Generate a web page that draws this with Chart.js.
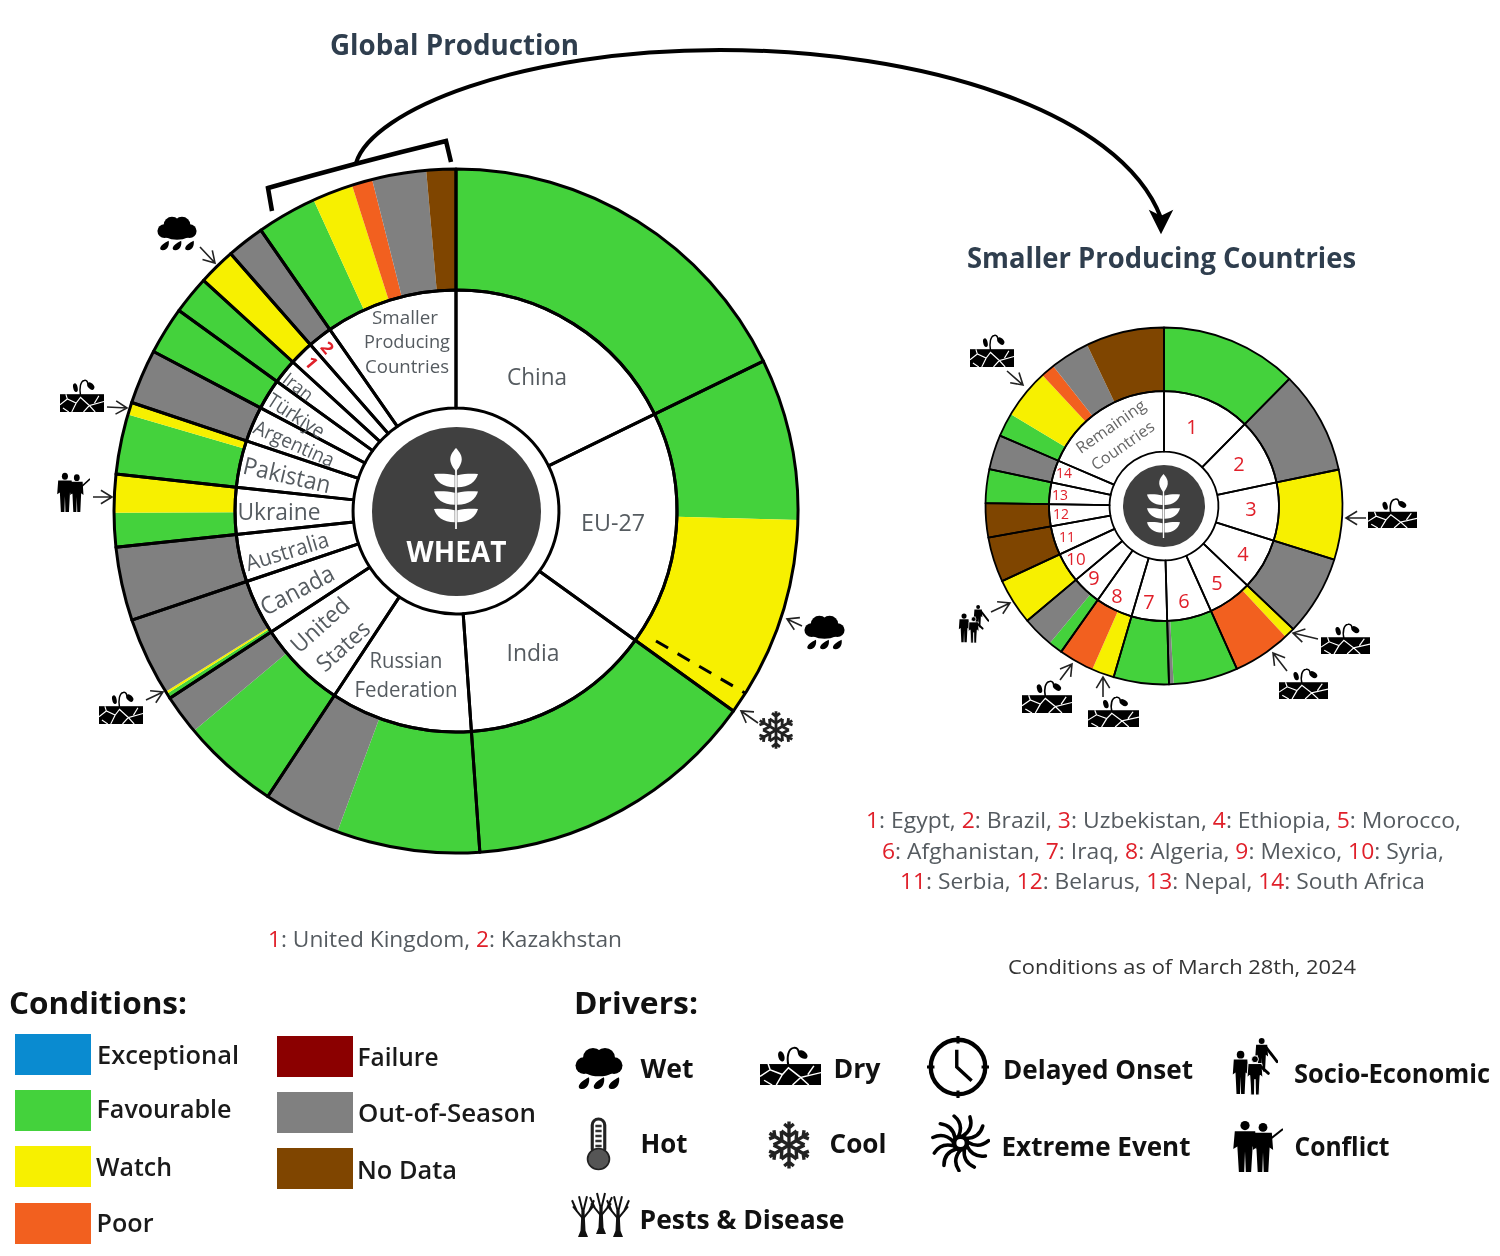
<!DOCTYPE html>
<html>
<head>
<meta charset="utf-8">
<title>Wheat conditions</title>
<script src="https://cdn.jsdelivr.net/npm/chart.js@4"></script>
<style>
  html, body { margin: 0; padding: 0; background: #fff; }
  #page { position: relative; width: 1500px; height: 1256px; overflow: hidden; font-family: "Open Sans", sans-serif; }
  canvas { position: absolute; }
  #overlay { position: absolute; left: 0; top: 0; }
  .hub { position: absolute; border-radius: 50%; background: #404040; }
</style>
</head>
<body>
<div id="page">
  <canvas id="majorBase" width="700" height="700" style="left:106px;top:161px;width:700px;height:700px"></canvas>
  <canvas id="majorFrame" width="700" height="700" style="left:106px;top:161px;width:700px;height:700px"></canvas>
  <canvas id="minorBase" width="380" height="380" style="left:974px;top:316px;width:380px;height:380px"></canvas>
  <canvas id="minorFrame" width="380" height="380" style="left:974px;top:316px;width:380px;height:380px"></canvas>
  <div class="hub" style="left:372px;top:427px;width:169px;height:169px"></div>
  <div class="hub" style="left:1123px;top:465px;width:82px;height:82px"></div>
  <svg id="overlay" width="1500" height="1256" viewBox="0 0 1500 1256" xmlns="http://www.w3.org/2000/svg"></svg>
</div>
<script>
'use strict';

// Global production: share of the wheel per country (degrees)
var majorCountries = ['China', 'EU-27', 'India', 'Russian Federation', 'United States', 'Canada', 'Australia',
    'Ukraine', 'Pakistan', 'Argentina', 'Türkiye', 'Iran', 'United Kingdom', 'Kazakhstan', 'Smaller Producing Countries'];
var majorShares = [64, 61.8, 50.2, 37.4, 23.4, 14.6, 12.5, 12.3, 12.3, 9.3, 8.1, 6.5, 6.4, 6.4, 34.8];

// Outer ring: same wheel, split by crop condition
var majorCondValues = [64, 27.5, 34.3, 50.2, 24.3, 13.1, 16.6, 6.8, 0.9, 0.4, 13.3, 12.5, 5.8, 6.5, 10.2, 2.1,
    9.3, 8.1, 6.5, 6.4, 6.4, 10.2, 6.9, 3.5, 9.2, 5];
var majorCondKinds = ['Favourable', 'Favourable', 'Watch', 'Favourable', 'Favourable', 'Out-of-Season', 'Favourable',
    'Out-of-Season', 'Favourable', 'Watch', 'Out-of-Season', 'Out-of-Season', 'Favourable', 'Watch', 'Favourable', 'Watch',
    'Out-of-Season', 'Favourable', 'Favourable', 'Watch', 'Out-of-Season', 'Favourable', 'Watch', 'Poor', 'Out-of-Season', 'No Data'];

// Smaller producing countries
var minorCountries = ['Egypt', 'Brazil', 'Uzbekistan', 'Ethiopia', 'Morocco', 'Afghanistan', 'Iraq', 'Algeria',
    'Mexico', 'Syria', 'Serbia', 'Belarus', 'Nepal', 'South Africa', 'Remaining Countries'];
var minorShares = [44.6, 33.6, 29.3, 26.1, 22.3, 22.5, 18, 18.8, 14.8, 15.1, 14.7, 11.1, 11, 11.3, 66.8];
var minorCondValues = [44.6, 33.6, 29.3, 26.1, 3.5, 18.8, 21, 1.5, 18, 7.3, 11.5, 4.6, 10.2, 15.1, 14.7, 11.1, 11, 11.3,
    7.7, 16.2, 4.5, 12.9, 25.5];
var minorCondKinds = ['Favourable', 'Out-of-Season', 'Watch', 'Out-of-Season', 'Watch', 'Poor', 'Favourable', 'Out-of-Season',
    'Favourable', 'Watch', 'Poor', 'Favourable', 'Out-of-Season', 'Watch', 'No Data', 'No Data', 'Favourable', 'Out-of-Season',
    'Favourable', 'Watch', 'Poor', 'Out-of-Season', 'No Data'];

// Legend
var conditionNames = ['Exceptional', 'Favourable', 'Watch', 'Poor', 'Failure', 'Out-of-Season', 'No Data'];
var conditionColors = ['#0A8BD0', '#44D23C', '#F7F000', '#F2601F', '#8B0000', '#808080', '#7F4500'];

var GREY_TEXT = '#555b60';
var RED_TEXT = '#E0202A';

function colorOf(kind) {
    return conditionColors[conditionNames.indexOf(kind)];
}

/**
 * Two stacked charts per wheel: coloured rings below, black frame per country on top
 */
function drawWheel(baseId, frameId, names, shares, condValues, condKinds, radius, cutout, weights, lineWidth) {
    var common = {
        responsive: false,
        animation: false,
        events: [],
        radius: radius,
        cutout: cutout,
        plugins: { legend: { display: false }, tooltip: { enabled: false } }
    };
    new Chart(document.getElementById(baseId), {
        type: 'doughnut',
        data: {
            labels: condKinds,
            datasets: [
                { data: condValues, backgroundColor: condKinds.map(colorOf), borderWidth: 0, weight: weights[0] },
                { data: shares, backgroundColor: '#ffffff', borderWidth: 0, weight: weights[1] }
            ]
        },
        options: common
    });
    new Chart(document.getElementById(frameId), {
        type: 'doughnut',
        data: {
            labels: names,
            datasets: [
                { data: shares, backgroundColor: 'rgba(0,0,0,0)', borderColor: '#000', borderWidth: lineWidth, borderJoinStyle: 'round', weight: weights[0] },
                { data: shares, backgroundColor: 'rgba(0,0,0,0)', borderColor: '#000', borderWidth: lineWidth, borderJoinStyle: 'round', weight: weights[1] }
            ]
        },
        options: common
    });
}

drawWheel('majorBase', 'majorFrame', majorCountries, majorShares, majorCondValues, majorCondKinds, 342, '30.1%', [121, 118], 3);
drawWheel('minorBase', 'minorFrame', minorCountries, minorShares, minorCondValues, minorCondKinds, 178.5, '30.5%', [63.5, 60.5], 1.8);

// ---- annotations: text and icons on top of the charts ----

function text(str, cx, cy, size, width, color, weight, rot) {
    var t = rot ? ' transform="rotate(' + rot + ' ' + cx + ' ' + cy + ')"' : '';
    return '<text x="' + cx + '" y="' + (cy - 1) + '" font-size="' + size + '" font-weight="' + (weight || 400) + '" fill="' + color +
        '" text-anchor="middle" dominant-baseline="central" textLength="' + width + '" lengthAdjust="spacingAndGlyphs"' + t + '>' + str + '</text>';
}

function icon(id, x0, y0, x1, y1) {
    return '<use href="#' + id + '" x="' + x0 + '" y="' + y0 + '" width="' + (x1 - x0) + '" height="' + (y1 - y0) + '"/>';
}

function arrow(x0, y0, x1, y1, width) {
    var a = Math.atan2(y1 - y0, x1 - x0), h = 13;
    var p = [a + 2.6, a - 2.6].map(function(b) {
        return (x1 + h * Math.cos(b)).toFixed(1) + ' ' + (y1 + h * Math.sin(b)).toFixed(1);
    });
    return '<path d="M' + x0 + ' ' + y0 + 'L' + x1 + ' ' + y1 + 'M' + p[0] + 'L' + x1 + ' ' + y1 + 'L' + p[1] +
        '" fill="none" stroke="#222" stroke-width="' + (width || 1.6) + '"/>';
}

function footnote(entries, cx, cy, size, width) {
    var parts = entries.map(function(e) {
        return '<tspan fill="' + RED_TEXT + '">' + e[0] + '</tspan>: ' + e[1] + e[2];
    }).join('');
    return '<text x="' + cx + '" y="' + (cy - 1) + '" font-size="' + size + '" fill="' + GREY_TEXT + '" text-anchor="middle" dominant-baseline="central" textLength="' +
        width + '" lengthAdjust="spacingAndGlyphs">' + parts + '</text>';
}

function rotated(count, body) {
    var out = '';
    for (var i = 0; i < count; i++) {
        out += '<g transform="rotate(' + (i * 360 / count).toFixed(1) + ' 50 50)">' + body + '</g>';
    }
    return out;
}

function person(cx, top, h, ratio) {
    var w = h * ratio;
    return '<circle cx="' + cx + '" cy="' + (top + h * 0.09) + '" r="' + (h * 0.09) + '"/>' +
        '<path d="M' + (cx - w) + ' ' + (top + h * 0.2) + 'H' + (cx + w) + 'L' + (cx + w * 1.15) + ' ' + (top + h * 0.55) + 'L' + (cx + w * 0.75) + ' ' + (top + h * 0.5) +
        'L' + (cx + w * 0.6) + ' ' + (top + h) + 'H' + (cx + w * 0.08) + 'L' + cx + ' ' + (top + h * 0.6) + 'L' + (cx - w * 0.08) + ' ' + (top + h) + 'H' + (cx - w * 0.6) +
        'L' + (cx - w * 0.75) + ' ' + (top + h * 0.5) + 'L' + (cx - w * 1.15) + ' ' + (top + h * 0.55) + 'Z"/>';
}

function tree(cx, base) {
    return '<path d="M' + cx + ' ' + (base - 18) + 'L' + (cx - 10) + ' ' + (base - 30) + 'M' + cx + ' ' + (base - 18) + 'L' + (cx + 10) + ' ' + (base - 30) +
        'M' + cx + ' ' + (base - 24) + 'L' + (cx - 4) + ' ' + (base - 40) + 'M' + cx + ' ' + (base - 24) + 'L' + (cx + 4) + ' ' + (base - 40) +
        'M' + (cx - 6) + ' ' + (base - 25) + 'L' + (cx - 11) + ' ' + (base - 36) + 'M' + (cx + 6) + ' ' + (base - 25) + 'L' + (cx + 11) + ' ' + (base - 36) + '" stroke="#111" fill="none" stroke-width="2"/>' +
        '<path d="M' + (cx - 1.5) + ' ' + (base - 26) + 'H' + (cx + 1.5) + 'L' + (cx + 2.5) + ' ' + (base - 6) + 'L' + (cx + 5) + ' ' + base + 'H' + (cx - 5) + 'L' + (cx - 2.5) + ' ' + (base - 6) + 'Z" fill="#111"/>';
}

function leafPair(y) {
    return '<path d="M47 ' + (y + 3) + 'C30 ' + (y - 1) + ' 15 ' + (y - 1) + ' 0 ' + y + 'C5 ' + (y + 18) + ' 20 ' + (y + 31) + ' 47 ' + (y + 31) + 'Z"/>' +
        '<path d="M53 ' + (y + 3) + 'C70 ' + (y - 1) + ' 85 ' + (y - 1) + ' 100 ' + y + 'C95 ' + (y + 18) + ' 80 ' + (y + 31) + ' 53 ' + (y + 31) + 'Z"/>';
}

var symbols =
    '<symbol id="wet" viewBox="0 0 48 44" preserveAspectRatio="none"><circle cx="9" cy="19" r="8.5"/><circle cx="18" cy="11" r="10"/><circle cx="30" cy="11" r="10"/><circle cx="39" cy="19" r="8.5"/><ellipse cx="24" cy="20" rx="18" ry="10"/>' +
    '<path d="M14 31C15 36 13 43 7 43C2 43 2 37 14 31ZM29 31C30 36 28 43 22 43C17 43 17 37 29 31ZM44 31C45 36 43 43 37 43C32 43 32 37 44 31Z"/></symbol>' +
    '<symbol id="dry" viewBox="0 0 60 42" preserveAspectRatio="none"><path d="M28 22C26 12 28 4 33 3C37 2 38 6 38 8" fill="none" stroke="#000" stroke-width="2"/><ellipse cx="42" cy="10" rx="5.5" ry="3.6" transform="rotate(40 42 10)"/><ellipse cx="21" cy="12" rx="3" ry="5.5" transform="rotate(-15 21 12)"/>' +
    '<rect x="0" y="20" width="60" height="22"/><path d="M0 33L10 26L22 31L28 24L40 34L60 29M10 26L8 20M22 31L16 42M40 34L32 42M40 34L48 42M47 31L53 22M4 37L12 42" fill="none" stroke="#fff" stroke-width="1.5"/></symbol>' +
    '<symbol id="snow" viewBox="0 0 100 100" preserveAspectRatio="none"><g stroke="#222" stroke-width="7" fill="none">' +
    rotated(6, '<path d="M50 50V3M50 33L34 22M50 33L66 22M50 16L40 8M50 16L60 8"/>') + '</g></symbol>' +
    '<symbol id="clock" viewBox="0 0 100 100" preserveAspectRatio="none"><circle cx="50" cy="50" r="44" fill="none" stroke="#000" stroke-width="7"/><path d="M48 22V50L72 72" fill="none" stroke="#000" stroke-width="5.5"/>' +
    '<path d="M50 0V12M50 88V100M0 50H12M88 50H100" stroke="#000" stroke-width="5"/></symbol>' +
    '<symbol id="hot" viewBox="0 0 24 54" preserveAspectRatio="none"><rect x="6" y="2" width="12" height="36" rx="6" fill="#fff" stroke="#222" stroke-width="3"/><path d="M9 9H15M9 14H15M9 19H15M9 24H15M9 29H15" stroke="#333" stroke-width="2.6"/><circle cx="12" cy="42" r="10.5" fill="#555" stroke="#222" stroke-width="1.6"/></symbol>' +
    '<symbol id="cyclone" viewBox="0 0 100 100" preserveAspectRatio="none"><circle cx="50" cy="50" r="15"/><circle cx="50" cy="50" r="7" fill="#fff"/><g fill="none" stroke="#000" stroke-width="6" stroke-linecap="round">' +
    rotated(11, '<path d="M54 38C66 30 70 18 66 5"/>') + '</g></symbol>' +
    '<symbol id="family" viewBox="0 0 50 58" preserveAspectRatio="none">' + person(11, 13, 44, 0.16) + person(33, 0, 34, 0.17) + '<path d="M38 10L49 24" stroke="#000" stroke-width="3" stroke-linecap="round"/><g stroke="#fff" stroke-width="1">' + person(26, 18, 40, 0.18) + '</g><path d="M31 28L40 36" stroke="#000" stroke-width="3" stroke-linecap="round"/></symbol>' +
    '<symbol id="conflict" viewBox="0 0 50 52" preserveAspectRatio="none">' + person(12, 1, 51, 0.2) + person(30, 3, 49, 0.18) + '<path d="M36 20L50 9" stroke="#000" stroke-width="2"/></symbol>' +
    '<symbol id="pests" viewBox="0 0 60 46" preserveAspectRatio="none">' + tree(12, 46) + tree(30, 43) + tree(47, 46) + '</symbol>' +
    '<symbol id="wheat" viewBox="0 0 100 190" preserveAspectRatio="none"><g fill="#fff"><path d="M50 0C62 14 72 28 50 55C28 28 38 14 50 0Z"/><rect x="48" y="50" width="4" height="140"/>' +
    leafPair(61) + leafPair(102) + leafPair(143) + '</g></symbol>';

// label, centre x, centre y, font size, text width, rotation
var majorLabels = [
    ['China', 537, 377, 23, 60, 0], ['EU-27', 613, 523, 23, 64, 0], ['India', 533, 653, 23, 53, 0],
    ['Russian', 406, 661, 21, 73, 0], ['Federation', 406, 690, 21, 103, 0],
    ['United', 320, 625, 23, 70, -42], ['States', 343, 646, 23, 63, -42], ['Canada', 297, 590, 24, 80, -28],
    ['Australia', 287, 551, 22, 86, -17], ['Ukraine', 279, 511, 24, 83, 0], ['Pakistan', 287, 475, 24, 89, 13],
    ['Argentina', 294, 444, 20, 86, 24], ['Türkiye', 296, 416, 20, 64, 33], ['Iran', 298, 387, 18, 33, 38],
    ['Smaller', 405, 318, 18, 66, 0], ['Producing', 407, 342, 18, 86, 0], ['Countries', 407, 367, 18, 84, 0]
];
var minorNumbers = [
    ['1', 1192, 427, 20], ['2', 1239, 464, 20], ['3', 1251, 509, 20], ['4', 1243, 554, 20], ['5', 1217, 583, 20],
    ['6', 1184, 601, 20], ['7', 1149, 602, 20], ['8', 1117, 596, 20], ['9', 1094, 578, 20], ['10', 1076, 559, 17],
    ['11', 1067, 537, 14], ['12', 1061, 514, 14], ['13', 1060, 495, 14], ['14', 1064, 473, 14]
];

var html = '<defs>' + symbols + '</defs>';

// headings and connector
html += text('Global Production', 454.5, 45, 28, 249, '#2F3E4E', 700);
html += text('Smaller Producing Countries', 1161.5, 258, 28, 389, '#2F3E4E', 700);
html += '<path d="M272 211L268 188Q355 163 446 141L451 162" fill="none" stroke="#000" stroke-width="4.5"/>';
html += '<path d="M356 163C372 110 520 50 720 50C920 50 1120 110 1161 218" fill="none" stroke="#000" stroke-width="4"/>';
html += '<path d="M1161 232L1151 212L1161 217L1171 212Z" stroke="#000" stroke-width="2"/>';

// dashed split inside the EU-27 watch slice
html += '<path d="M656 641L745 693" stroke="#000" stroke-width="3" stroke-dasharray="14 11"/>';

// centre of the wheels
html += icon('wheat', 434, 448, 478, 529) + text('WHEAT', 456.5, 552, 28, 100, '#fff', 700);
html += icon('wheat', 1147, 474, 1180, 538);

majorLabels.forEach(function(l) {
    html += text(l[0], l[1], l[2], l[3], l[4], GREY_TEXT, 400, l[5]);
});
html += text('1', 311, 363, 17, 10, RED_TEXT, 700, 50) + text('2', 327, 348, 17, 10, RED_TEXT, 700, 50);
minorNumbers.forEach(function(n) {
    html += text(n[0], n[1], n[2], n[3], n[3] * 0.57 * n[0].length, RED_TEXT, 400);
});
html += text('Remaining', 1111, 427, 16, 81, '#666', 400, -35) + text('Countries', 1123, 446, 16, 73, '#666', 400, -35);

// footnotes
html += footnote([['1', majorCountries[12], ', '], ['2', majorCountries[13], '']], 445, 939, 22, 354);
html += footnote([['1', minorCountries[0], ', '], ['2', minorCountries[1], ', '], ['3', minorCountries[2], ', '], ['4', minorCountries[3], ', '], ['5', minorCountries[4], ',']], 1163.5, 820, 22, 595);
html += footnote([['6', minorCountries[5], ', '], ['7', minorCountries[6], ', '], ['8', minorCountries[7], ', '], ['9', minorCountries[8], ', '], ['10', minorCountries[9], ',']], 1163, 851, 22, 562);
html += footnote([['11', minorCountries[10], ', '], ['12', minorCountries[11], ', '], ['13', minorCountries[12], ', '], ['14', minorCountries[13], '']], 1162.5, 881, 22, 525);
html += text('Conditions as of March 28th, 2024', 1182, 967, 20, 348, '#333', 400);

// driver icons and their arrows on the big wheel
html += icon('wet', 157, 216, 197, 251) + arrow(200, 247, 215, 263);
html += icon('dry', 60, 378, 104, 412) + arrow(107, 407, 127, 408);
html += icon('conflict', 57, 472, 90, 512) + arrow(93, 497, 112, 497);
html += icon('dry', 99, 690, 143, 724) + arrow(146, 700, 163, 692);
html += icon('wet', 804, 615, 845, 650) + arrow(802, 626, 787, 619);
html += icon('snow', 756, 710, 796, 750) + arrow(758, 723, 741, 711);

// and on the small one
html += icon('dry', 970, 333, 1014, 367) + arrow(1007, 371, 1023, 385);
html += icon('dry', 1368, 497, 1417, 528) + arrow(1366, 518, 1346, 518);
html += icon('dry', 1321, 622, 1370, 654) + arrow(1318, 639, 1293, 633);
html += icon('dry', 1279, 667, 1328, 699) + arrow(1287, 671, 1273, 653);
html += icon('dry', 1088, 695, 1139, 727) + arrow(1103, 697, 1103, 677);
html += icon('dry', 1022, 679, 1072, 713) + arrow(1060, 680, 1072, 664);
html += icon('family', 957, 605, 989, 643) + arrow(991, 612, 1010, 603);

// conditions legend
html += text('Conditions:', 98, 1003, 31, 178, '#111', 700);
var swatchBoxes = [[15, 1034], [15, 1090], [15, 1146], [15, 1203], [277, 1036], [277, 1092], [277, 1148]];
var swatchLabels = [[168, 1055, 142], [164, 1109, 135], [134, 1167, 76], [125, 1223, 57], [398, 1057, 81], [447, 1113, 178], [407, 1170, 100]];
conditionNames.forEach(function(name, i) {
    html += '<rect x="' + swatchBoxes[i][0] + '" y="' + swatchBoxes[i][1] + '" width="76" height="41" fill="' + conditionColors[i] + '"/>';
    html += text(name, swatchLabels[i][0], swatchLabels[i][1], 26, swatchLabels[i][2], '#1a1a1a', 600);
});

// drivers legend
html += text('Drivers:', 636, 1003, 31, 124, '#111', 700);
html += icon('wet', 575, 1047, 623, 1090) + text('Wet', 667, 1068, 27, 53, '#111', 700);
html += icon('dry', 760, 1045, 821, 1085) + text('Dry', 857, 1068, 27, 47, '#111', 700);
html += icon('clock', 927, 1036, 989, 1098) + text('Delayed Onset', 1098, 1069, 27, 190, '#111', 700);
html += icon('family', 1230, 1038, 1278, 1095) + text('Socio-Economic', 1392, 1073, 27, 196, '#111', 700);
html += icon('hot', 586, 1117, 611, 1171) + text('Hot', 664, 1143, 27, 47, '#111', 700);
html += icon('snow', 765, 1120, 813, 1170) + text('Cool', 858, 1143, 27, 57, '#111', 700);
html += icon('cyclone', 931, 1114, 990, 1172) + text('Extreme Event', 1096, 1146, 27, 189, '#111', 700);
html += icon('conflict', 1233, 1120, 1283, 1172) + text('Conflict', 1342, 1146, 27, 95, '#111', 700);
html += icon('pests', 571, 1190, 631, 1237) + text('Pests &amp; Disease', 742, 1219, 27, 205, '#111', 700);

document.getElementById('overlay').innerHTML = html;
</script>
</body>
</html>
